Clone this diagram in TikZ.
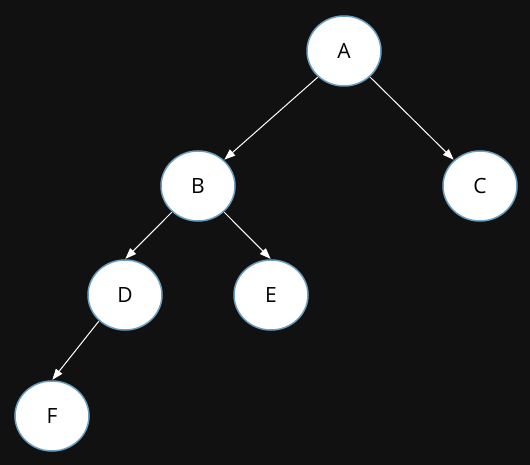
\documentclass[tikz,border=0pt]{standalone}
\usepackage{fontspec}
\setmainfont{Open Sans}
\usetikzlibrary{arrows.meta,shapes.geometric}
\definecolor{bg}{HTML}{111111}
\definecolor{rim}{HTML}{6A9FC2}
\tikzset{
  treenode/.style={ellipse, draw=rim, line width=1.5pt, fill=white, minimum width=74pt, minimum height=70pt, inner sep=0pt, font=\fontsize{21}{25}\selectfont, text=black},
  link/.style={draw=white, line width=1pt, -{Triangle[length=11pt,width=8pt]}, shorten <=0.5pt, shorten >=0.5pt}
}
\begin{document}
\begin{tikzpicture}[x=1pt,y=-1pt]
\fill[bg] (0,0) rectangle (530,465);
\useasboundingbox (0,0) rectangle (530,465);
\node[treenode] (A) at (344,51) {A};
\node[treenode] (B) at (198,186) {B};
\node[treenode] (C) at (480,186) {C};
\node[treenode] (D) at (125,295) {D};
\node[treenode] (E) at (271,295) {E};
\node[treenode] (F) at (52,416) {F};
\draw[link] (A.225) -- (B.45);
\draw[link] (A.-45) -- (C.135);
\draw[link] (B.225) -- (D.north);
\draw[link] (B.-45) -- (E.north);
\draw[link] (D.225) -- (F.north);
\end{tikzpicture}
\end{document}
